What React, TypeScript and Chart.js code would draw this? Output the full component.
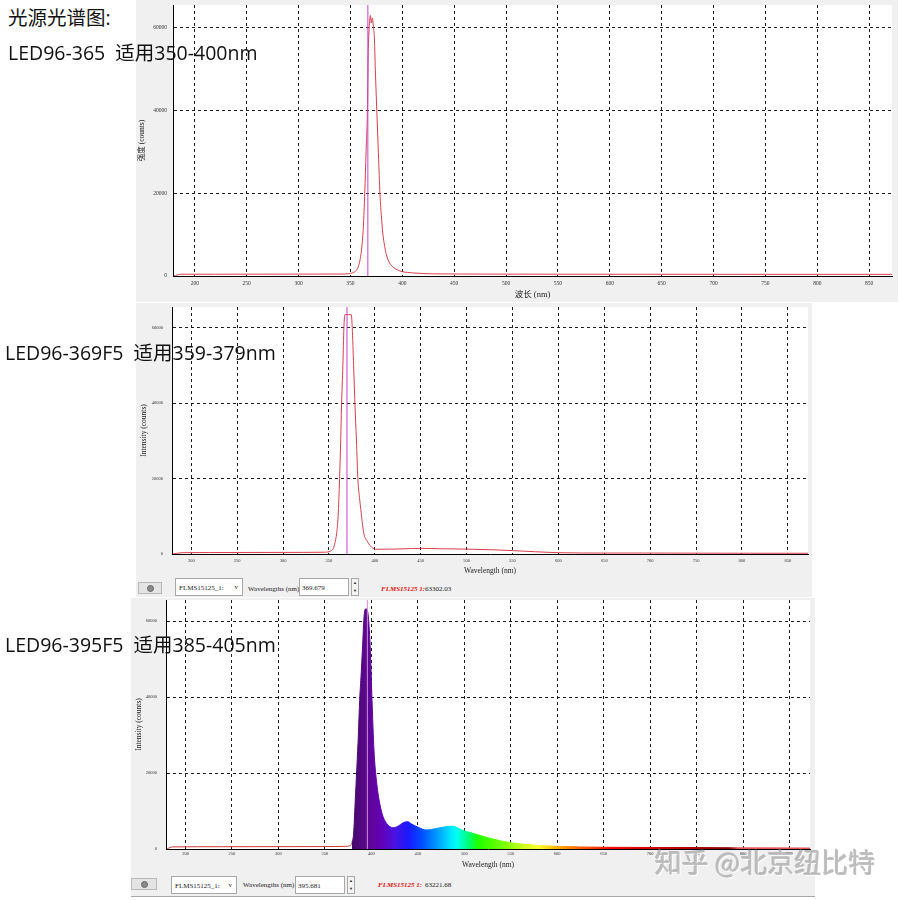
import React, { useEffect, useRef } from "react";
import { Chart, registerables } from "chart.js";
Chart.register(...registerables);

// ---------------- data ----------------
const X_MIN = 179;
const X_MAX = 872;
const Y_MAX = 65535;
const wavelengthStep = 50;
const countTicks = [0, 20000, 40000, 60000];

// LED96-365
const ledA_nm = [180, 186, 220, 260, 300, 340, 348, 352, 355, 357.5, 359.5, 361, 362.5, 363.8, 365.1, 366.4, 366.8, 367.3, 368.2, 369.2, 370.1, 371.1, 372.2, 373.2, 374, 375.5, 377, 378.5, 380, 381.2, 382.6, 384.3, 387, 390.7, 395, 400, 410, 430, 480, 550, 650, 750, 872];
const ledA_counts = [0, 420, 430, 440, 450, 470, 550, 750, 1200, 2200, 4200, 7000, 12000, 20000, 30000, 40000, 47000, 55000, 60500, 63000, 61200, 62400, 60200, 57000, 50000, 39600, 29500, 19700, 14000, 10400, 7800, 5500, 3500, 2250, 1500, 1040, 750, 520, 460, 430, 410, 400, 400];
const ledA_marker = 366.8;

// LED96-369F5
const ledB_nm = [180, 190, 250, 300, 345, 350, 352.5, 354.8, 356.6, 358.4, 360, 361.6, 362.8, 363.8, 365.2, 366.3, 367.4, 371, 374.3, 375.4, 376.9, 378.3, 380, 381.5, 383.3, 385.2, 388, 391.7, 395, 400.7, 420, 440, 450, 470, 500, 530, 550, 575, 600, 650, 700, 800, 872];
const ledB_counts = [0, 350, 400, 420, 470, 600, 900, 1500, 3000, 5500, 10000, 20000, 30000, 40000, 50000, 60000, 63500, 63500, 63500, 60000, 50000, 40000, 30000, 20000, 15000, 10800, 5500, 3400, 2200, 1250, 1300, 1450, 1500, 1400, 1300, 1100, 900, 600, 350, 250, 250, 200, 200];
const ledB_marker = 369.679;

// LED96-395F5
const ledC_nm = [180, 186, 240, 300, 350, 372, 376, 378.1, 379.5, 380.9, 382.5, 384.4, 386, 387.4, 389, 390.3, 392.4, 394.2, 396.8, 398.9, 400.7, 402.8, 405.4, 409, 412.6, 418, 423.4, 428.7, 434.1, 438.9, 443.2, 450.3, 459.4, 470, 481, 488.1, 497.2, 509.7, 527.8, 550, 574.5, 600, 650, 700, 750, 800, 872];
const ledC_counts = [0, 550, 600, 620, 640, 700, 800, 1050, 2000, 4100, 12000, 21600, 30000, 39100, 46000, 52200, 61900, 63200, 61000, 52200, 39100, 26000, 18100, 12000, 8500, 6300, 5600, 6000, 6900, 7200, 6600, 5700, 5000, 5400, 5900, 6000, 5000, 4100, 2800, 1650, 1050, 700, 450, 400, 380, 300, 250];
const ledC_marker = 395.681;

const pageTitle = "光源光谱图:";
const ledTitles = ["LED96-365  适用350-400nm", "LED96-369F5  适用359-379nm", "LED96-395F5  适用385-405nm"];
const readoutB = { device: "FLMS15125_1:", wl: "369.679", label: "FLMS15125 1:", value: "63302.03" };
const readoutC = { device: "FLMS15125_1:", wl: "395.681", label: "FLMS15125 1:", value: "63221.68" };
const watermark = "知乎 @北京纽比特";

// colour stops of the visible-spectrum fill (style)
const spectrumStops: [number, string][] = [
  [379.5, "#45086a"], [395, "#5c0890"], [410, "#6400b4"], [425, "#4a12e0"], [440, "#1a1aff"],
  [455, "#0050ff"], [470, "#0098ff"], [485, "#00e4ff"], [492, "#00fff0"], [505, "#00ff70"],
  [515, "#20ff00"], [540, "#70ff00"], [565, "#d0ff20"], [580, "#ffff30"], [600, "#ffb000"],
  [630, "#ff5000"], [660, "#f00000"], [720, "#c00000"], [785, "#8a0000"], [795, "#e05858"], [872, "#e05858"],
];

// ---------------- helpers ----------------
const SERIF = "'Liberation Serif', 'DejaVu Serif', 'Noto Sans CJK SC'";

const whitePlot = {
  id: "whitePlot",
  beforeDraw(chart: any) {
    const { ctx, chartArea } = chart;
    if (!chartArea) return;
    ctx.save();
    ctx.fillStyle = "#ffffff";
    ctx.fillRect(chartArea.left, chartArea.top, chartArea.right - chartArea.left, chartArea.bottom - chartArea.top);
    ctx.restore();
  },
};

function spectrumGradient(chart: any, baseColor: string | null) {
  const { ctx, chartArea, scales } = chart;
  if (!chartArea || !scales || !scales.x) return baseColor || "rgba(0,0,0,0)";
  const xs = scales.x;
  const x0 = xs.getPixelForValue(X_MIN);
  const x1 = xs.getPixelForValue(X_MAX);
  const g = ctx.createLinearGradient(x0, 0, x1, 0);
  const base = baseColor || "rgba(0,0,0,0)";
  const f = (nm: number) => Math.min(1, Math.max(0, (nm - X_MIN) / (X_MAX - X_MIN)));
  g.addColorStop(0, base);
  g.addColorStop(f(378.8), base);
  for (const [nm, c] of spectrumStops) g.addColorStop(f(nm), c);
  return g;
}

type Cfg = {
  nm: number[]; counts: number[]; marker: number; markerColor: string;
  lineColor: any; fillColor?: any;
  padding: { left: number; top: number; right: number; bottom: number };
  yWidth: number; xHeight: number;
  xTitle: string; yTitle: string; xTitleSize: number; yTitleSize: number;
  xTitlePad: number; yTitlePad: number; xTickPad: number; yTickPad: number;
  xTickSize: number; yTickSize: number;
};

function makeConfig(p: Cfg): any {
  const points = p.nm.map((x, i) => ({ x, y: p.counts[i] }));
  const grid = { color: "#1e1e1e", lineWidth: 1, drawTicks: false };
  const border = { display: true, color: "#000", width: 1, dash: [3, 3] };
  return {
    type: "line",
    data: {
      datasets: [
        {
          data: [{ x: p.marker, y: 0 }, { x: p.marker, y: Y_MAX }],
          borderColor: p.markerColor, borderWidth: 1, pointRadius: 0, fill: false,
        },
        {
          data: points,
          borderColor: p.lineColor, borderWidth: 1, pointRadius: 0,
          cubicInterpolationMode: "monotone",
          fill: p.fillColor ? "origin" : false,
          backgroundColor: p.fillColor || "rgba(0,0,0,0)",
        },
      ],
    },
    options: {
      responsive: false,
      animation: false,
      devicePixelRatio: 1,
      layout: { padding: p.padding, autoPadding: false },
      plugins: { legend: { display: false }, tooltip: { enabled: false }, title: { display: false } },
      events: [],
      scales: {
        x: {
          type: "linear", min: X_MIN, max: X_MAX,
          afterFit: (s: any) => { s.height = p.xHeight; s.paddingLeft = 0; s.paddingRight = 0; s.paddingTop = 0; s.paddingBottom = 0; },
          ticks: {
            stepSize: wavelengthStep, includeBounds: false, autoSkip: false, maxRotation: 0,
            padding: p.xTickPad, color: "#333", font: { family: SERIF, size: p.xTickSize },
            callback: (v: any) => String(v),
          },
          grid, border,
          title: {
            display: true, text: p.xTitle, color: "#222",
            font: { family: SERIF, size: p.xTitleSize }, padding: { top: 0, bottom: p.xTitlePad },
          },
        },
        y: {
          type: "linear", min: 0, max: Y_MAX,
          afterFit: (s: any) => { s.width = p.yWidth; s.paddingTop = 0; s.paddingBottom = 0; s.paddingLeft = 0; s.paddingRight = 0; },
          afterBuildTicks: (s: any) => { s.ticks = countTicks.map((value) => ({ value })); },
          ticks: {
            padding: p.yTickPad, color: "#333",
            font: { family: SERIF, size: p.yTickSize },
            callback: (v: any) => String(v),
          },
          grid, border,
          title: {
            display: true, text: p.yTitle, color: "#222",
            font: { family: SERIF, size: p.yTitleSize }, padding: { top: p.yTitlePad, bottom: 0 },
          },
        },
      },
    },
    plugins: [whitePlot],
  };
}

function SpectrumChart({ cfg, left, top, width, height }: { cfg: () => any; left: number; top: number; width: number; height: number }) {
  const ref = useRef<HTMLCanvasElement>(null);
  useEffect(() => {
    const chart = new Chart(ref.current as HTMLCanvasElement, cfg());
    return () => chart.destroy();
  }, []);
  return (
    <canvas ref={ref} width={width} height={height}
      style={{ position: "absolute", left, top, width, height, display: "block" }} />
  );
}

const tiny: React.CSSProperties = { position: "absolute", fontFamily: SERIF, fontSize: 7, lineHeight: "8px", color: "#222", whiteSpace: "nowrap" };

function ControlBar({ L, r }: { L: any; r: typeof readoutB }) {
  return (
    <>
      <div style={{ position: "absolute", left: L.btn[0], top: L.btn[1], width: L.btn[2], height: L.btn[3], background: "#e4e4e4", border: "1px solid #b8b8b8", boxSizing: "border-box" }}>
        <div style={{ position: "absolute", left: "50%", top: "50%", width: 7, height: 7, marginLeft: -3.5, marginTop: -3.5, borderRadius: "50%", background: "#8a8a8a", border: "1px solid #666", boxSizing: "border-box" }} />
      </div>
      <div style={{ position: "absolute", left: L.dd[0], top: L.dd[1], width: L.dd[2], height: L.dd[3], background: "#fff", border: "1px solid #a8a8a8", boxSizing: "border-box" }}>
        <span style={{ ...tiny, left: 3, top: 5 }}>{r.device}</span>
        <span style={{ ...tiny, right: 4, top: 4 }}>v</span>
      </div>
      <span style={{ ...tiny, left: L.lab[0], top: L.lab[1] }}>Wavelengths (nm)</span>
      <div style={{ position: "absolute", left: L.inp[0], top: L.inp[1], width: L.inp[2], height: L.inp[3], background: "#fff", border: "1px solid #a8a8a8", boxSizing: "border-box" }}>
        <span style={{ ...tiny, left: 2, top: 5 }}>{r.wl}</span>
      </div>
      <div style={{ position: "absolute", left: L.spin[0], top: L.spin[1], width: L.spin[2], height: L.spin[3], background: "#f4f4f4", border: "1px solid #a8a8a8", boxSizing: "border-box" }}>
        <span style={{ ...tiny, fontSize: 4, lineHeight: "5px", left: 1, top: 1 }}>▲</span>
        <span style={{ ...tiny, fontSize: 4, lineHeight: "5px", left: 1, top: 9 }}>▼</span>
      </div>
      <span style={{ ...tiny, left: L.red, top: L.lab[1], color: "#e01010", fontWeight: "bold", fontStyle: "italic" }}>{r.label}</span>
      <span style={{ ...tiny, left: L.val, top: L.lab[1] }}>{r.value}</span>
    </>
  );
}

const bigText: React.CSSProperties = {
  position: "absolute", fontFamily: "'Open Sans', 'Noto Sans CJK SC', sans-serif", fontSize: 19.5,
  lineHeight: "20px", color: "#111", whiteSpace: "pre",
};

export default function App() {
  const cfgA = () => makeConfig({
    nm: ledA_nm, counts: ledA_counts, marker: ledA_marker, markerColor: "#c444d0", lineColor: "#d8404c",
    padding: { left: 0, top: 5, right: 6, bottom: 0 }, yWidth: 37, xHeight: 26,
    xTitle: "波长 (nm)", yTitle: "强度 (counts)", xTitleSize: 8.5, yTitleSize: 7.5,
    xTitlePad: 2, yTitlePad: 2, xTickPad: 4, yTickPad: 6, xTickSize: 5.5, yTickSize: 5.5,
  });
  const cfgB = () => makeConfig({
    nm: ledB_nm, counts: ledB_counts, marker: ledB_marker, markerColor: "#c040c8", lineColor: "#d8404c",
    padding: { left: 0, top: 4, right: 4, bottom: 0 }, yWidth: 36, xHeight: 24,
    xTitle: "Wavelength (nm)", yTitle: "Intensity (counts)", xTitleSize: 7.5, yTitleSize: 7.5,
    xTitlePad: 2, yTitlePad: 4, xTickPad: 4, yTickPad: 9, xTickSize: 4.5, yTickSize: 4.5,
  });
  const cfgC = () => makeConfig({
    nm: ledC_nm, counts: ledC_counts, marker: ledC_marker, markerColor: "#d58ad8",
    lineColor: (ctx: any) => spectrumGradient(ctx.chart, "#cc3636"),
    fillColor: (ctx: any) => spectrumGradient(ctx.chart, null),
    padding: { left: 0, top: 2, right: 5, bottom: 0 }, yWidth: 35, xHeight: 21,
    xTitle: "Wavelength (nm)", yTitle: "Intensity (counts)", xTitleSize: 7.5, yTitleSize: 7.5,
    xTitlePad: 0, yTitlePad: 4, xTickPad: 2, yTickPad: 9, xTickSize: 4.5, yTickSize: 4.5,
  });

  return (
    <div style={{ position: "absolute", left: 0, top: 0, width: 900, height: 900, background: "#fff", overflow: "hidden" }}>
      {/* panel 1 */}
      <div style={{ position: "absolute", left: 136, top: 0, width: 762, height: 302, background: "#f0f0f0" }} />
      <SpectrumChart cfg={cfgA} left={136} top={0} width={762} height={302} />

      {/* panel 2 */}
      <div style={{ position: "absolute", left: 136, top: 303, width: 676, height: 294, background: "#f0f0f0" }} />
      <SpectrumChart cfg={cfgB} left={136} top={303} width={676} height={275} />
      <ControlBar r={readoutB} L={{ btn: [138, 582, 24, 12], dd: [175, 578, 68, 18], lab: [248, 585], inp: [299, 578, 50, 18], spin: [351, 578, 8, 18], red: 381, val: 425 }} />

      {/* panel 3 */}
      <div style={{ position: "absolute", left: 131, top: 598, width: 684, height: 298, background: "#f0f0f0", borderBottom: "1px solid #a8a8a8" }} />
      <SpectrumChart cfg={cfgC} left={131} top={598} width={684} height={272} />
      <ControlBar r={readoutC} L={{ btn: [131, 878, 26, 12], dd: [171, 876, 66, 18], lab: [243, 881], inp: [295, 876, 50, 18], spin: [347, 876, 8, 18], red: 378, val: 425 }} />

      {/* left-hand labels */}
      <div style={{ ...bigText, left: 8, top: 8 }}>{pageTitle}</div>
      <div style={{ ...bigText, left: 8, top: 43 }}>{ledTitles[0]}</div>
      <div style={{ ...bigText, left: 5, top: 343 }}>{ledTitles[1]}</div>
      <div style={{ ...bigText, left: 5, top: 635 }}>{ledTitles[2]}</div>

      {/* watermark */}
      <div style={{ position: "absolute", left: 655, top: 845, fontFamily: "'Noto Sans CJK SC', sans-serif", fontSize: 27, lineHeight: "34px", color: "rgba(185,185,185,0.9)", textShadow: "1px 1px 0 rgba(255,255,255,0.9), -1px -1px 0 rgba(120,120,120,0.45)", whiteSpace: "pre" }}>{watermark}</div>
    </div>
  );
}
